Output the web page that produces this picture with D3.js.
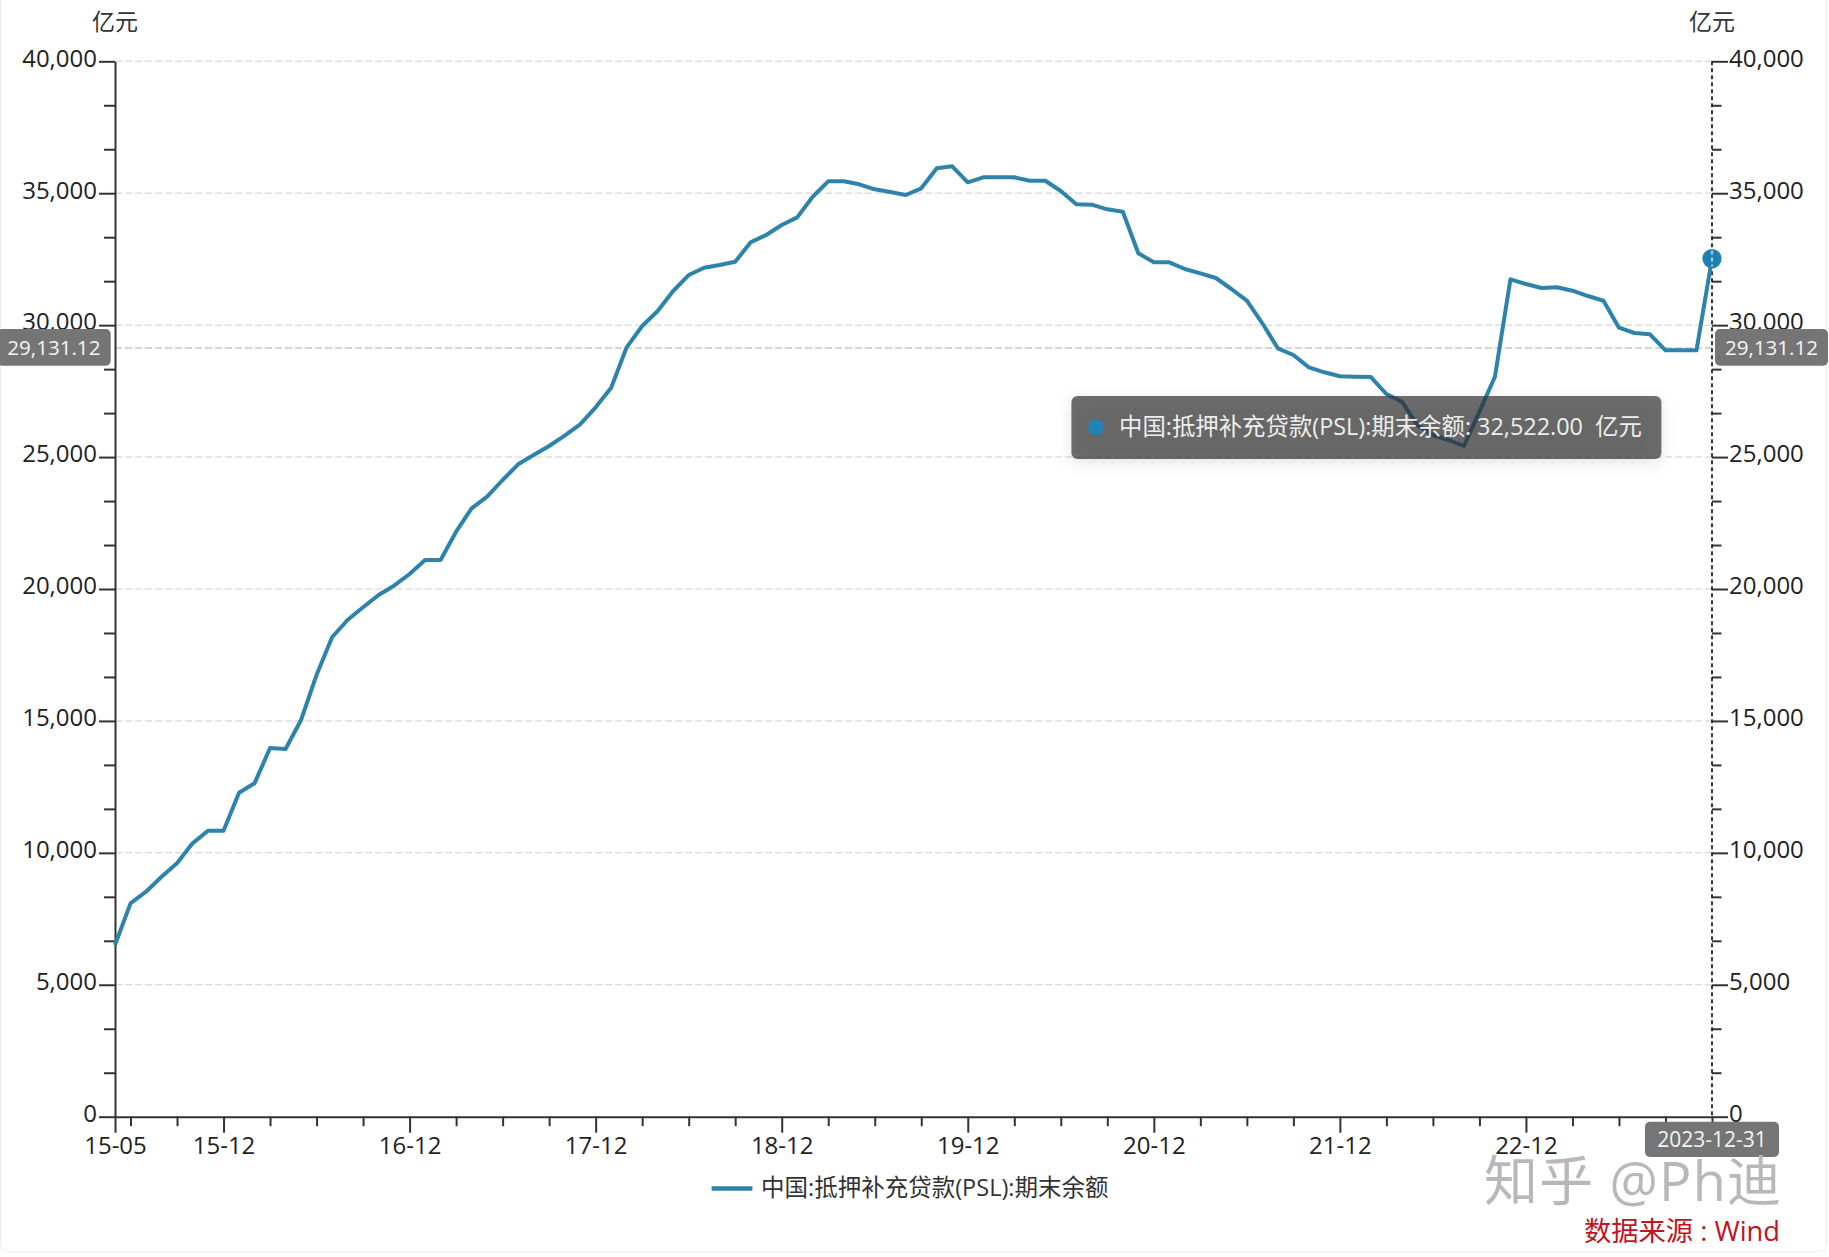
<!DOCTYPE html>
<html>
<head>
<meta charset="utf-8">
<script src="https://cdn.jsdelivr.net/npm/d3@7"></script>
<style>
  html, body { margin: 0; padding: 0; background: #fff; }
  svg { display: block; font-family: "Open Sans", "Noto Sans CJK SC", sans-serif; }
  .axis path, .axis line { stroke: #333; stroke-width: 2; }
  .axis text { font-size: 24px; fill: #222; font-family: "Open Sans", "Noto Sans CJK SC", sans-serif; }
</style>
</head>
<body>
<div id="chart"></div>
<script>
// month labels, one row per year
var months = [
  "15-05","15-06","15-07","15-08","15-09","15-10","15-11","15-12",
  "16-01","16-02","16-03","16-04","16-05","16-06","16-07","16-08","16-09","16-10","16-11","16-12",
  "17-01","17-02","17-03","17-04","17-05","17-06","17-07","17-08","17-09","17-10","17-11","17-12",
  "18-01","18-02","18-03","18-04","18-05","18-06","18-07","18-08","18-09","18-10","18-11","18-12",
  "19-01","19-02","19-03","19-04","19-05","19-06","19-07","19-08","19-09","19-10","19-11","19-12",
  "20-01","20-02","20-03","20-04","20-05","20-06","20-07","20-08","20-09","20-10","20-11","20-12",
  "21-01","21-02","21-03","21-04","21-05","21-06","21-07","21-08","21-09","21-10","21-11","21-12",
  "22-01","22-02","22-03","22-04","22-05","22-06","22-07","22-08","22-09","22-10","22-11","22-12",
  "23-01","23-02","23-03","23-04","23-05","23-06","23-07","23-08","23-09","23-10","23-11","23-12"
];

// PSL balance
var balance = [
  6507, 8087, 8528, 9096, 9603, 10360, 10840, 10840,
  12280, 12635, 13974, 13936, 15035, 16740, 18170, 18825, 19306, 19772, 20125, 20568,
  21099, 21099, 22172, 23058, 23498, 24131, 24726, 25078, 25420, 25810, 26242, 26886,
  27629, 29160, 29967, 30536, 31294, 31900, 32177, 32279, 32405, 33140, 33416, 33795,
  34084, 34868, 35451, 35451, 35338, 35148, 35046, 34932, 35186, 35944, 36020, 35414,
  35603, 35603, 35603, 35474, 35474, 35084, 34580, 34565, 34390, 34300, 32723, 32382,
  32382, 32128, 31965, 31787, 31370, 30926, 30070, 29122, 28868, 28402, 28213, 28061,
  28044, 28033, 27390, 27098, 26215, 25836, 25647, 25420, 26720, 28044, 31737, 31559,
  31408, 31434, 31305, 31104, 30926, 29903, 29702, 29653, 29047, 29047, 29047, 32522
];

var majorMonths = ["15-05","15-12","16-12","17-12","18-12","19-12","20-12","21-12","22-12"];
var yTicks = [0, 5000, 10000, 15000, 20000, 25000, 30000, 35000, 40000];
var seriesName = "中国:抵押补充贷款(PSL):期末余额";
var unit = "亿元";
var crossValue = 29131.12;
var crossDate = "2023-12-31";
var sourceText = "数据来源 : Wind";
var watermark = "知乎 @Ph迪";

var svgWidth = 1829;
var svgHeight = 1257;
var margin = { top: 61.3, right: 117, bottom: 140.3, left: 115 };
var lineColor = "#2e83ab";

var svg = d3.select("#chart").append("svg")
    .attr("width", svgWidth)
    .attr("height", svgHeight);

var x = d3.scalePoint()
    .domain(months)
    .range([margin.left, svgWidth - margin.right]);

var y = d3.scaleLinear()
    .domain([0, 40000])
    .range([svgHeight - margin.bottom, margin.top]);

var left = margin.left, right = svgWidth - margin.right;
var top0 = margin.top, bottom0 = svgHeight - margin.bottom;

// page edge
svg.append("rect")
    .attr("x", 0.5).attr("y", -10)
    .attr("width", svgWidth - 3).attr("height", svgHeight + 5)
    .attr("rx", 8)
    .attr("fill", "none")
    .attr("stroke", "#ececec");

// grid
svg.append("g").selectAll("line")
    .data(yTicks.slice(1))
    .enter()
    .append("line")
    .attr("x1", left).attr("x2", right)
    .attr("y1", d => y(d)).attr("y2", d => y(d))
    .attr("stroke", "#dedede")
    .attr("stroke-width", 1.5)
    .attr("stroke-dasharray", "7 3");

// horizontal crosshair
svg.append("line")
    .attr("x1", left).attr("x2", right)
    .attr("y1", y(crossValue)).attr("y2", y(crossValue))
    .attr("stroke", "#c8c8c8")
    .attr("stroke-width", 1.5)
    .attr("stroke-dasharray", "7 3");

// minor ticks on the y axes, three parts per 5000
var yMinor = d3.range(0, 40000, 5000 / 3).filter(d => d % 5000 > 1 && d % 5000 < 4999);
// every third month on the x axis, except the labelled ones
var xMinor = months.filter(m => +m.slice(3) % 3 === 0 && majorMonths.indexOf(m) < 0);

var yLeftMinor = svg.append("g").attr("class", "axis")
    .attr("transform", `translate(${left},0)`)
    .call(d3.axisLeft(y).tickValues(yMinor).tickSize(11).tickFormat(""));
yLeftMinor.select(".domain").remove();

var yLeft = svg.append("g").attr("class", "axis")
    .attr("transform", `translate(${left},0)`)
    .call(d3.axisLeft(y).tickValues(yTicks).tickSize(16).tickSizeOuter(0).tickPadding(2).tickFormat(d3.format(",")));
yLeft.selectAll("text").attr("dy", "0.2em");

var yRightMinor = svg.append("g").attr("class", "axis")
    .attr("transform", `translate(${right},0)`)
    .call(d3.axisRight(y).tickValues(yMinor).tickSize(9.5).tickFormat(""));
yRightMinor.select(".domain").remove();

var yRight = svg.append("g").attr("class", "axis")
    .attr("transform", `translate(${right},0)`)
    .call(d3.axisRight(y).tickValues(yTicks).tickSize(16).tickSizeOuter(0).tickPadding(1).tickFormat(d3.format(",")));
yRight.select(".domain").remove();
yRight.selectAll("text").attr("dy", "0.2em");

var xMinorAxis = svg.append("g").attr("class", "axis")
    .attr("transform", `translate(0,${bottom0})`)
    .call(d3.axisBottom(x).tickValues(xMinor).tickSize(9.5).tickFormat(""));
xMinorAxis.select(".domain").remove();

var xAxis = svg.append("g").attr("class", "axis")
    .attr("transform", `translate(0,${bottom0})`)
    .call(d3.axisBottom(x).tickValues(majorMonths).tickSize(16).tickSizeOuter(0).tickPadding(4));

// unit labels
[left, right].forEach(function(px) {
    svg.append("text")
        .attr("x", px)
        .attr("y", 30)
        .attr("text-anchor", "middle")
        .attr("font-size", 23)
        .attr("fill", "#333")
        .text(unit);
});

// vertical crosshair, on top of the right axis
svg.append("line")
    .attr("x1", right).attr("x2", right)
    .attr("y1", top0).attr("y2", bottom0)
    .attr("stroke", "#222")
    .attr("stroke-width", 1.8)
    .attr("stroke-dasharray", "4 3");

// the series
var line = d3.line()
    .x((d, i) => x(months[i]))
    .y(d => y(d));

svg.append("path")
    .datum(balance)
    .attr("d", line)
    .attr("fill", "none")
    .attr("stroke", lineColor)
    .attr("stroke-width", 4)
    .attr("stroke-linejoin", "round");

var lastValue = balance[balance.length - 1];
svg.append("circle")
    .attr("cx", right)
    .attr("cy", y(lastValue))
    .attr("r", 9.6)
    .attr("fill", "#1f7fb0");

svg.append("line")
    .attr("x1", right).attr("x2", right)
    .attr("y1", y(lastValue) - 8).attr("y2", y(lastValue) + 8)
    .attr("stroke", "#fff")
    .attr("stroke-width", 1.2)
    .attr("stroke-dasharray", "4 3");

// small grey value / date boxes
function flag(bx, by, w, h, label, size) {
    svg.append("rect")
        .attr("x", bx).attr("y", by)
        .attr("width", w).attr("height", h)
        .attr("rx", 5)
        .attr("fill", "#757575");
    svg.append("text")
        .attr("x", bx + w / 2)
        .attr("y", by + h / 2 + size * 0.35)
        .attr("text-anchor", "middle")
        .attr("font-size", size)
        .attr("fill", "#f4f4f4")
        .text(label);
}
var crossLabel = d3.format(",.2f")(crossValue);
flag(-3, 329, 113.7, 36.7, crossLabel, 20.6);
flag(1715, 329, 113, 36.7, crossLabel, 20.6);
flag(1645, 1121.7, 134, 35.3, crossDate, 21);

// tooltip
svg.append("rect")
    .attr("x", 1071.4).attr("y", 396)
    .attr("width", 590).attr("height", 63)
    .attr("rx", 6)
    .attr("fill", "rgba(50,50,50,0.7)")
    .style("filter", "drop-shadow(0 4px 8px rgba(0,0,0,0.15))");

svg.append("circle")
    .attr("cx", 1096).attr("cy", 427.5)
    .attr("r", 8)
    .attr("fill", "#1f84b5");

svg.append("text")
    .attr("x", 1119).attr("y", 434.5)
    .attr("font-size", 23.4)
    .attr("fill", "#eeeeee")
    .attr("xml:space", "preserve")
    .style("white-space", "pre")
    .text(`${seriesName}: ${d3.format(",.2f")(lastValue)}  ${unit}`);

// legend
svg.append("line")
    .attr("x1", 711.6).attr("x2", 752.4)
    .attr("y1", 1188.5).attr("y2", 1188.5)
    .attr("stroke", lineColor)
    .attr("stroke-width", 4.5);

svg.append("text")
    .attr("x", 761).attr("y", 1195.5)
    .attr("font-size", 23.5)
    .attr("fill", "#333")
    .text(seriesName);

// watermark and source
svg.append("text")
    .attr("x", 1484).attr("y", 1201)
    .attr("font-size", 54)
    .attr("textLength", 297)
    .attr("fill", "#b8b8b8")
    .text(watermark);

svg.append("text")
    .attr("x", 1780).attr("y", 1241)
    .attr("text-anchor", "end")
    .attr("font-size", 27.3)
    .attr("fill", "#c0141e")
    .text(sourceText);
</script>
</body>
</html>
